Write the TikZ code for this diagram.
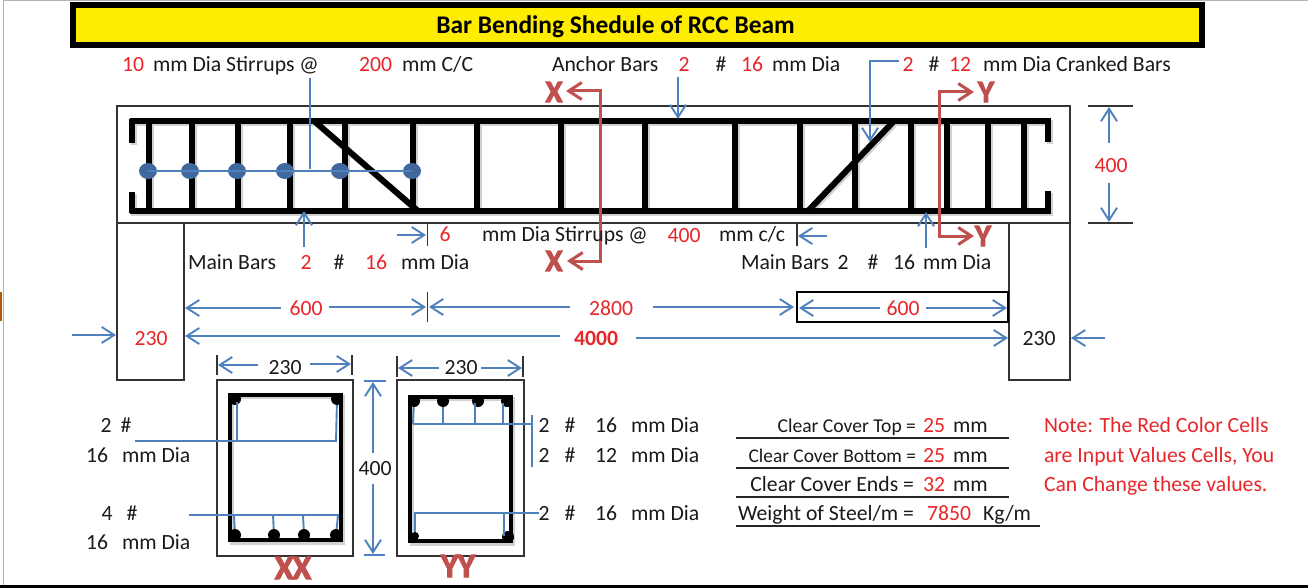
\documentclass[tikz,border=0pt]{standalone}
\usepackage{fontspec}
\setmainfont{Carlito}
\newfontfamily\fatfont[UprightFont=* Bold,FakeBold=3]{Carlito}
\usetikzlibrary{arrows.meta,shapes.geometric}
\definecolor{lineblue}{HTML}{4F81BD}
\definecolor{dotblue}{HTML}{41689E}
\definecolor{secred}{HTML}{C0504D}
\definecolor{inred}{HTML}{E8262A}
\definecolor{inkblack}{HTML}{1A1A1A}
\tikzset{
  lbl/.style={inner sep=0pt,outer sep=0pt,font=\fontsize{21.7}{24}\selectfont,text=inkblack,anchor=base west},
  cbl/.style={inner sep=0pt,outer sep=0pt,font=\fontsize{21.7}{24}\selectfont,text=inkblack,anchor=base},
  rlb/.style={lbl,text=inred},
  crd/.style={cbl,text=inred},
  rcv/.style={inner sep=0pt,outer sep=0pt,text=inkblack,anchor=base east},
  secm/.style={inner sep=0pt,text=secred,anchor=center,font=\fontsize{31}{32}\fatfont},
  secw/.style={secm,font=\fontsize{34}{36}\fatfont},
  outl/.style={draw=black!80,line width=1.4pt},
  barst/.style={draw=black,line width=6pt,line cap=butt},
  stir/.style={draw=black,line width=5.5pt},
  shad/.style={draw=black!18,line width=6pt},
  lead/.style={draw=lineblue,line width=1.9pt},
  arw/.style={lead,-{Straight Barb[length=12.5pt,width=16pt,line width=1.9pt]}},
  sarw/.style={draw=secred,line width=3pt,-{Straight Barb[length=13pt,width=17pt,line width=3pt]}},
  dotb/.style={fill=dotblue,draw=none},
  rebar/.style={fill=black,draw=none},
}
\newcommand{\beamsteel}[2]{%
  \draw[#1] (129.5,121) -- (1051,121);
  \draw[#1] (129.5,211) -- (1051,211);
  \draw[#1] (132,119) -- (132,143);
  \draw[#1] (132,192) -- (132,213);
  \draw[#1] (1048,121) -- (1048,142);
  \draw[#1] (1048,191) -- (1048,213);
  \foreach \sx in {149,192,238,290,345,413,477,561,645,735,800,855,911,947,988,1024}
    \draw[#2] (\sx,121) -- (\sx,211);
  \draw[#1] (313,120) -- (418,211);
  \draw[#1] (807,212) -- (895,120);
}
\begin{document}
\begin{tikzpicture}[x=1pt,y=-1pt]
\useasboundingbox (0,0) rectangle (1308,588);
\fill[white] (0,0) rectangle (1308,588);
% sheet edges
\draw[black!30,line width=1pt] (3,1) -- (1308,1);
\draw[black!30,line width=1pt] (3,1) -- (3,585);
\fill[black] (0,585) rectangle (1308,588);
\fill[orange!70!black] (0,292) rectangle (2,321);
% title
\node[draw=black,line width=6pt,fill=yellow!95!orange,minimum width=1129pt,minimum height=40pt,inner sep=0pt,anchor=center] (title) at (637.5,25) {};
\node[inner sep=0pt,anchor=base,font=\fontsize{25.4}{28}\selectfont\bfseries,text=black] (titletext) at (615.5,34) {Bar Bending Shedule of RCC Beam};
% concrete outline
\draw[outl] (117,106) rectangle (1070,223);
\draw[outl] (117,223) -- (117,380) -- (184,380) -- (184,223);
\draw[outl] (1009,223) -- (1009,380) -- (1070,380) -- (1070,223);
% steel
\begin{scope}[shift={(1.5,2)}]\beamsteel{shad}{shad}\end{scope}
\beamsteel{barst}{stir}
% blue dots
\foreach \dx/\dn in {148/a,190/b,237/c,285/d,340/e,412/f}
  \node[dotb,ellipse,inner sep=0pt,minimum width=18pt,minimum height=16pt] (dot\dn) at (\dx,171) {};
\draw[lead] (dota.center) -- (dotf.center);
\coordinate (st1) at (310,78);
\coordinate (st2) at (310,169);
\draw[lead] (st1) -- (st2);
% row 1
\node[rlb] (r1a) at (122,71.5) {10};
\node[lbl] (r1b) at (153,71.5) {mm Dia Stirrups @};
\node[rlb] (r1c) at (359,71.5) {200};
\node[lbl] (r1d) at (402,71.5) {mm C/C};
\node[lbl] (r1e) at (552,71.5) {Anchor Bars};
\node[crd] (r1f) at (684,71.5) {2};
\node[cbl] (r1g) at (721,71.5) {\#};
\node[crd] (r1h) at (752,71.5) {16};
\node[lbl] (r1i) at (772,71.5) {mm Dia};
\node[crd] (r1j) at (908,71.5) {2};
\node[cbl] (r1k) at (934,71.5) {\#};
\node[crd] (r1l) at (960,71.5) {12};
\node[lbl] (r1m) at (983,71.5) {mm Dia Cranked Bars};
% anchor and cranked leaders
\coordinate (an1) at (678,77); \coordinate (an2) at (678,119);
\draw[arw] (an1) -- (an2);
\coordinate (cr1) at (899,61); \coordinate (cr2) at (870,61); \coordinate (cr3) at (870,142);
\draw[arw] (cr1) -- (cr2) -- (cr3);
% section marks
\coordinate (xt) at (600,91); \coordinate (xb) at (600,261);
\coordinate (yt) at (939,92); \coordinate (yb) at (939,236);
\node[secm] (mxt) at (554,92) {X};
\node[secm] (mxb) at (554,261) {X};
\node[secm] (myt) at (986,92) {Y};
\node[secm] (myb) at (983,236) {Y};
\draw[sarw] (xb) -- (xt) -- (566,91);
\draw[sarw] (xt) -- (xb) -- (567,261);
\draw[sarw] (yb) -- (yt) -- (974,92);
\draw[sarw] (yt) -- (yb) -- (974,236);
% 400 dimension of beam
\draw[outl] (1088,106) -- (1133,106);
\draw[outl] (1088,223) -- (1133,223);
\draw[arw] (1109,143) -- (1109,107);
\draw[arw] (1109,183) -- (1109,222);
\node[crd] (h400) at (1111,172) {400};
% stirrup row
\draw[outl] (427.5,223) -- (427.5,246);
\draw[outl] (797,223) -- (797,246);
\draw[arw] (397,235) -- (426,235);
\draw[arw] (827,236) -- (798,236);
\node[crd] (s6) at (445,241) {6};
\node[lbl] (s7) at (482,241) {mm Dia Stirrups @};
\node[crd] (s400) at (684,242) {400};
\node[lbl] (s8) at (719,241) {mm c/c};
% main bars
\draw[arw] (304,247) -- (304,211);
\draw[arw] (926,248) -- (926,212);
\node[lbl] (m1) at (188,269) {Main Bars};
\node[crd] (m2) at (306,269) {2};
\node[cbl] (m3) at (339,269) {\#};
\node[crd] (m4) at (376,269) {16};
\node[lbl] (m5) at (401,269) {mm Dia};
\node[lbl] (m6) at (741,269) {Main Bars};
\node[cbl] (m7) at (843,269) {2};
\node[cbl] (m8) at (873,269) {\#};
\node[cbl] (m9) at (904,269) {16};
\node[lbl] (m10) at (923,269) {mm Dia};
% dimension rows
\draw[outl] (427.5,292) -- (427.5,322);
\draw[arw] (281,308) -- (185,308);
\draw[arw] (329,307) -- (426,307);
\node[crd] (d600a) at (306,315.5) {600};
\draw[arw] (570,307) -- (429,307);
\draw[arw] (653,307) -- (794,307);
\node[crd] (d2800) at (611,315.5) {2800};
\draw[draw=black,line width=2.4pt] (797,292) rectangle (1008,322);
\draw[arw] (880,308) -- (799,308);
\draw[arw] (926,308) -- (1007,308);
\node[crd] (d600b) at (903,315.5) {600};
\draw[arw] (72,335) -- (116,335);
\node[crd] (c1) at (151,345) {230};
\draw[arw] (560,336) -- (185,336);
\draw[arw] (636,338) -- (1008,338);
\node[crd,font=\fontsize{21.7}{24}\selectfont\bfseries] (d4000) at (596,345) {4000};
\node[cbl] (c2) at (1039,345) {230};
\draw[arw] (1105,338) -- (1071,338);
% section XX
\draw[outl] (217,380) rectangle (353,556);
\draw[draw=black!18,line width=4pt] (232,397) rectangle (343,543);
\draw[draw=black,line width=4.4pt] (230,395) rectangle (341,540);
\foreach \bx/\by/\bn in {235/399/a,337/399/b,235/535/c,274/535/d,304/535/e,336/535/f}
  \node[rebar,circle,inner sep=0pt,minimum size=12pt] (xb\bn) at (\bx,\by) {};
\draw[outl] (217,355) -- (217,375);
\draw[outl] (352,355) -- (352,375);
\draw[arw] (258,365) -- (218,365);
\draw[arw] (310,364) -- (351,364);
\node[cbl] (xw) at (285,374) {230};
\coordinate (xl1) at (135,441); \coordinate (xl2) at (336,441);
\coordinate (xl3) at (189,515); \coordinate (xl4) at (338,515);
\draw[lead] (xl1) -- (xl2) -- (xbb);
\draw[lead] (237,441) -- (237,402);
\draw[lead] (xl3) -- (xl4) -- (xbf);
\draw[lead] (234,515) -- (xbc);
\draw[lead] (273,515) -- (xbd);
\draw[lead] (303,515) -- (xbe);
% section YY
\draw[outl] (397,380) rectangle (524,556);
\draw[draw=black!18,line width=4pt] (412,399) rectangle (513,544);
\draw[draw=black,line width=4.4pt] (410,397) rectangle (511,541);
\foreach \bx/\by/\bn in {414/401/a,443/401/b,478/401/c,507/401/d,508/537/f}
  \node[rebar,circle,inner sep=0pt,minimum size=12pt] (yb\bn) at (\bx,\by) {};
\node[rebar,circle,inner sep=0pt,minimum size=8pt] (ybe) at (415,536) {};
\draw[outl] (397,356) -- (397,377);
\draw[outl] (523,356) -- (523,377);
\draw[arw] (439,368) -- (398,368);
\draw[arw] (481,368) -- (522,368);
\node[cbl] (yw) at (461,374) {230};
\coordinate (yl1) at (413,424); \coordinate (yl2) at (532,424);
\coordinate (yl3) at (415,513); \coordinate (yl4) at (539,513);
\draw[lead] (yl1) -- (yl2);
\draw[lead] (yl1) -- (yba);
\draw[lead] (443,424) -- (ybb);
\draw[lead] (475,424) -- (475,403);
\draw[lead] (503,424) -- (503,403);
\draw[lead] (532,415) -- (532,467);
\draw[lead] (ybe) -- (yl3) -- (yl4);
\draw[lead] (504,513) -- (504,536);
% 400 between sections
\draw[lead] (364,381) -- (386,381);
\draw[lead] (364,555) -- (385,555);
\draw[arw] (373,453) -- (373,382);
\draw[arw] (373,484) -- (373,554);
\node[cbl] (v400) at (375,475) {400};
% section names
\node[secw] (nxx) at (293,568) {X\kern-1pt X};
\node[secw] (nyy) at (458,566) {Y\kern-1pt Y};
% left labels
\node[cbl] (la1) at (106,432) {2};
\node[cbl] (la2) at (126,432) {\#};
\node[cbl] (la3) at (97,462) {16};
\node[lbl] (la4) at (122,462) {mm Dia};
\node[cbl] (la5) at (107,520) {4};
\node[cbl] (la6) at (132,520) {\#};
\node[cbl] (la7) at (97,549) {16};
\node[lbl] (la8) at (122,549) {mm Dia};
% right labels
\foreach \ry/\rd/\rn in {432.5/16/a,462/12/b,520/16/c}{
  \node[cbl] (ra\rn) at (544,\ry) {2};
  \node[cbl] (rb\rn) at (570,\ry) {\#};
  \node[cbl] (rc\rn) at (606,\ry) {\rd};
  \node[lbl] (rd\rn) at (631,\ry) {mm Dia};
}
% clear cover table
\node[rcv,font=\fontsize{19.6}{22}\selectfont] (cc1) at (916,432.5) {Clear Cover Top =};
\node[rcv,font=\fontsize{19.4}{22}\selectfont] (cc2) at (916,462) {Clear Cover Bottom =};
\node[rcv,font=\fontsize{21.7}{24}\selectfont] (cc3) at (914,491) {Clear Cover Ends =};
\node[rcv,font=\fontsize{21.7}{24}\selectfont] (cc4) at (914,520) {Weight of Steel/m =};
\node[crd] (cv1) at (934,432.5) {25};
\node[crd] (cv2) at (934,462) {25};
\node[crd] (cv3) at (934,491) {32};
\node[crd] (cv4) at (949,520) {7850};
\node[lbl] (cu1) at (953,432.5) {mm};
\node[lbl] (cu2) at (953,462) {mm};
\node[lbl] (cu3) at (953,491) {mm};
\node[lbl] (cu4) at (983,520) {Kg/m};
\draw[draw=black!85,line width=1.6pt] (736,438) -- (1009,438);
\draw[draw=black!85,line width=1.6pt] (736,468) -- (1009,468);
\draw[draw=black!85,line width=1.6pt] (736,497) -- (1009,497);
\draw[draw=black!85,line width=1.6pt] (736,526) -- (1040,526);
% note
\node[rlb] (n1) at (1044,432.5) {Note: The Red Color Cells};
\node[rlb] (n2) at (1044,462) {are Input Values Cells, You};
\node[rlb] (n3) at (1044,491) {Can Change these values.};
\end{tikzpicture}
\end{document}
